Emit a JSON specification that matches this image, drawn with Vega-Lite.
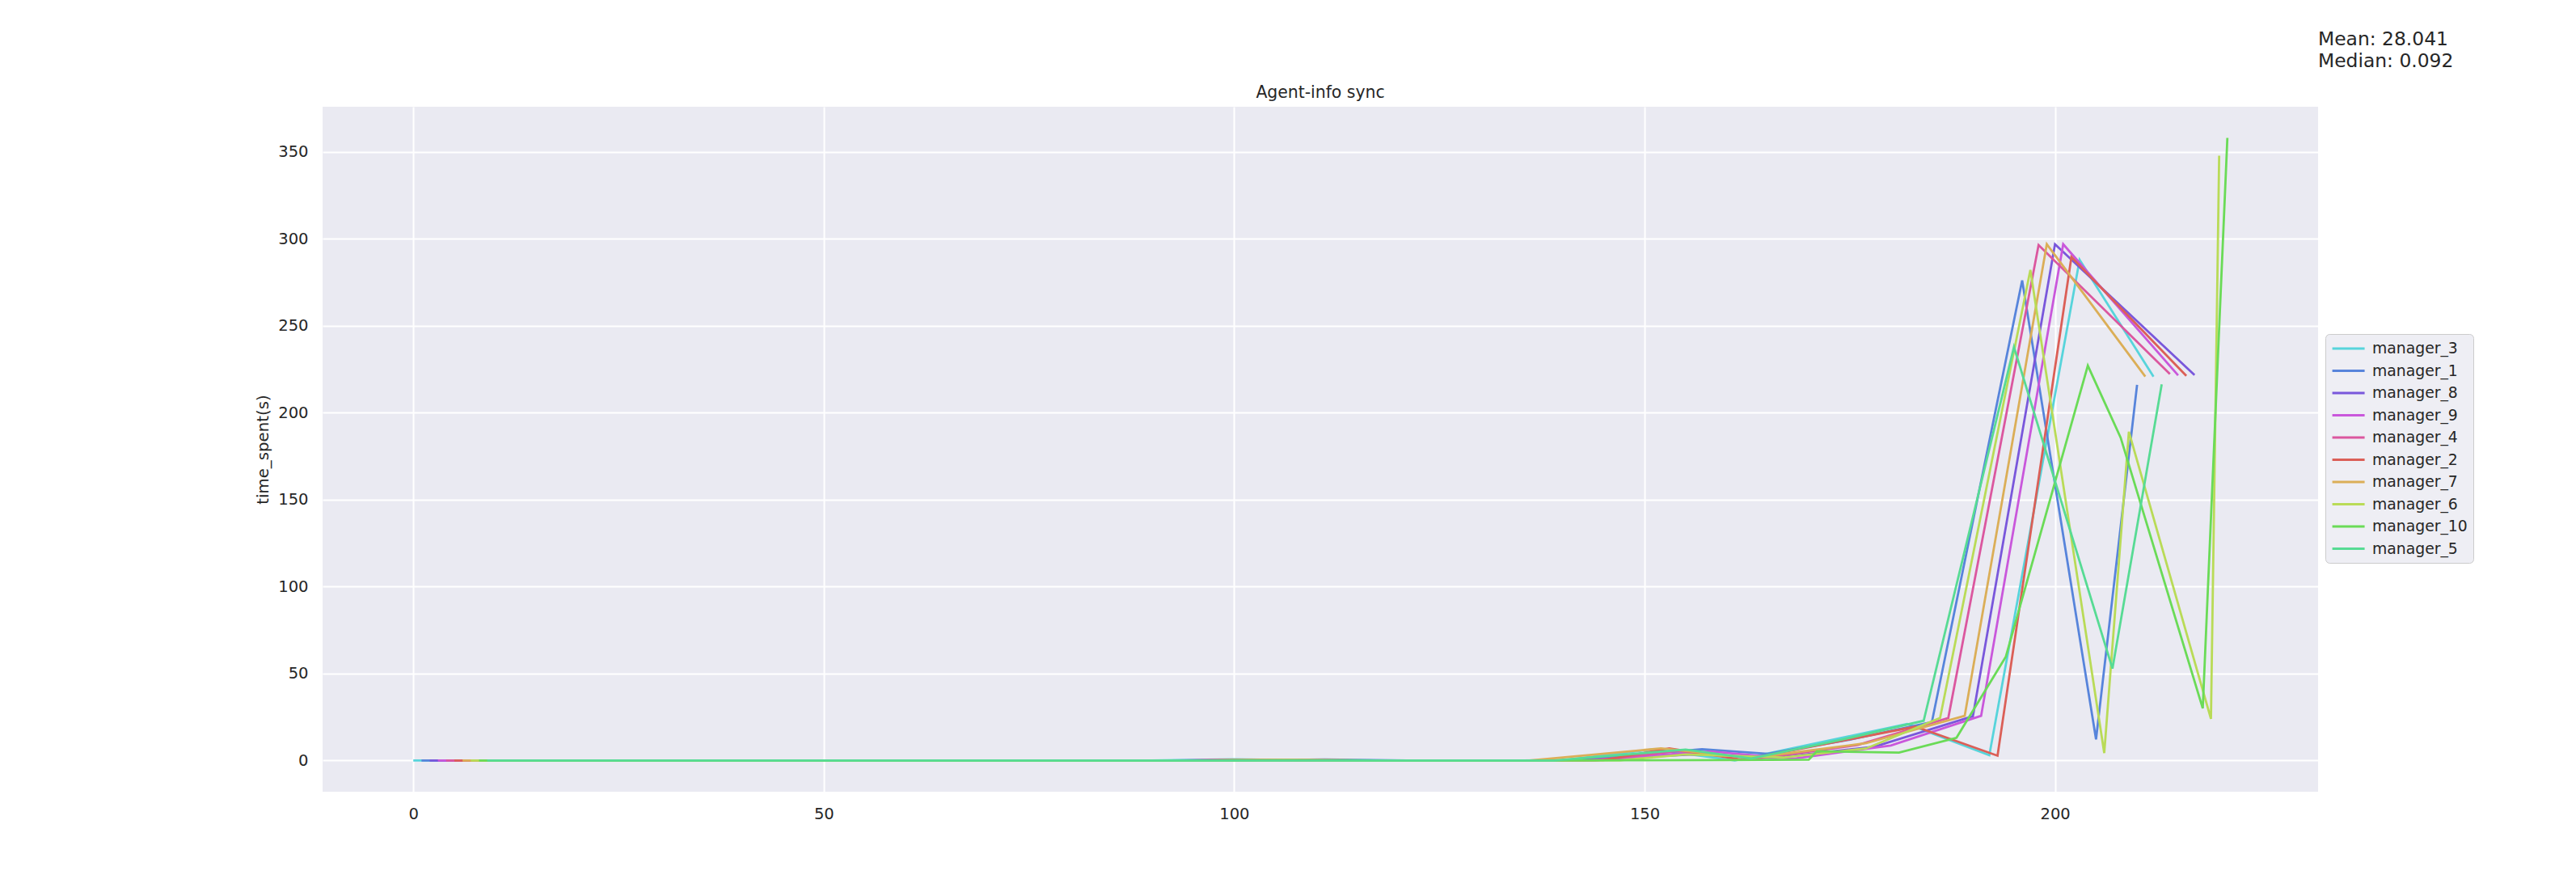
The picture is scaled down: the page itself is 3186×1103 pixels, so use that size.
{
  "$schema": "https://vega.github.io/schema/vega-lite/v6.json",
  "autosize": "none",
  "width": 2468,
  "height": 847,
  "padding": {"left": 399, "top": 132, "right": 319, "bottom": 124},
  "background": "white",
  "config": {
    "view": {"fill": "#EAEAF2", "stroke": null},
    "font": "DejaVu Sans"
  },
  "title": {
    "text": "Agent-info sync",
    "fontSize": 20.4,
    "fontWeight": "normal",
    "color": "#262626",
    "font": "DejaVu Sans",
    "offset": -88
  },
  "layer": [
    {
      "data": {
        "values": [
          {"manager": "manager_3", "idx": 0, "time_spent": 0.08},
          {"manager": "manager_3", "idx": 10, "time_spent": 0.09},
          {"manager": "manager_3", "idx": 20, "time_spent": 0.1},
          {"manager": "manager_3", "idx": 30, "time_spent": 0.09},
          {"manager": "manager_3", "idx": 40, "time_spent": 0.08},
          {"manager": "manager_3", "idx": 50, "time_spent": 0.09},
          {"manager": "manager_3", "idx": 60, "time_spent": 0.1},
          {"manager": "manager_3", "idx": 70, "time_spent": 0.09},
          {"manager": "manager_3", "idx": 80, "time_spent": 0.09},
          {"manager": "manager_3", "idx": 90, "time_spent": 0.08},
          {"manager": "manager_3", "idx": 100, "time_spent": 0.7},
          {"manager": "manager_3", "idx": 110, "time_spent": 0.09},
          {"manager": "manager_3", "idx": 120, "time_spent": 0.1},
          {"manager": "manager_3", "idx": 130, "time_spent": 0.09},
          {"manager": "manager_3", "idx": 140, "time_spent": 0.12},
          {"manager": "manager_3", "idx": 151, "time_spent": 6.4},
          {"manager": "manager_3", "idx": 161, "time_spent": 0.1},
          {"manager": "manager_3", "idx": 182, "time_spent": 21.0},
          {"manager": "manager_3", "idx": 192, "time_spent": 3.1},
          {"manager": "manager_3", "idx": 203, "time_spent": 287.8},
          {"manager": "manager_3", "idx": 212, "time_spent": 220.7},

          {"manager": "manager_1", "idx": 1, "time_spent": 0.09},
          {"manager": "manager_1", "idx": 11, "time_spent": 0.08},
          {"manager": "manager_1", "idx": 21, "time_spent": 0.09},
          {"manager": "manager_1", "idx": 31, "time_spent": 0.1},
          {"manager": "manager_1", "idx": 41, "time_spent": 0.09},
          {"manager": "manager_1", "idx": 51, "time_spent": 0.08},
          {"manager": "manager_1", "idx": 61, "time_spent": 0.09},
          {"manager": "manager_1", "idx": 71, "time_spent": 0.09},
          {"manager": "manager_1", "idx": 81, "time_spent": 0.1},
          {"manager": "manager_1", "idx": 91, "time_spent": 0.09},
          {"manager": "manager_1", "idx": 101, "time_spent": 0.09},
          {"manager": "manager_1", "idx": 111, "time_spent": 0.6},
          {"manager": "manager_1", "idx": 121, "time_spent": 0.09},
          {"manager": "manager_1", "idx": 131, "time_spent": 0.08},
          {"manager": "manager_1", "idx": 141, "time_spent": 0.1},
          {"manager": "manager_1", "idx": 157, "time_spent": 6.6},
          {"manager": "manager_1", "idx": 165, "time_spent": 3.9},
          {"manager": "manager_1", "idx": 175, "time_spent": 12.0},
          {"manager": "manager_1", "idx": 185, "time_spent": 22.1},
          {"manager": "manager_1", "idx": 196, "time_spent": 276.0},
          {"manager": "manager_1", "idx": 205, "time_spent": 12.2},
          {"manager": "manager_1", "idx": 210, "time_spent": 216.0},

          {"manager": "manager_8", "idx": 2, "time_spent": 0.09},
          {"manager": "manager_8", "idx": 12, "time_spent": 0.1},
          {"manager": "manager_8", "idx": 22, "time_spent": 0.09},
          {"manager": "manager_8", "idx": 32, "time_spent": 0.08},
          {"manager": "manager_8", "idx": 42, "time_spent": 0.09},
          {"manager": "manager_8", "idx": 52, "time_spent": 0.09},
          {"manager": "manager_8", "idx": 62, "time_spent": 0.1},
          {"manager": "manager_8", "idx": 72, "time_spent": 0.09},
          {"manager": "manager_8", "idx": 82, "time_spent": 0.08},
          {"manager": "manager_8", "idx": 92, "time_spent": 0.09},
          {"manager": "manager_8", "idx": 102, "time_spent": 0.3},
          {"manager": "manager_8", "idx": 112, "time_spent": 0.09},
          {"manager": "manager_8", "idx": 122, "time_spent": 0.1},
          {"manager": "manager_8", "idx": 132, "time_spent": 0.09},
          {"manager": "manager_8", "idx": 142, "time_spent": 0.1},
          {"manager": "manager_8", "idx": 156, "time_spent": 3.5},
          {"manager": "manager_8", "idx": 166, "time_spent": 1.5},
          {"manager": "manager_8", "idx": 178, "time_spent": 8.0},
          {"manager": "manager_8", "idx": 190, "time_spent": 25.5},
          {"manager": "manager_8", "idx": 200, "time_spent": 296.8},
          {"manager": "manager_8", "idx": 217, "time_spent": 221.6},

          {"manager": "manager_9", "idx": 3, "time_spent": 0.08},
          {"manager": "manager_9", "idx": 13, "time_spent": 0.09},
          {"manager": "manager_9", "idx": 23, "time_spent": 0.09},
          {"manager": "manager_9", "idx": 33, "time_spent": 0.1},
          {"manager": "manager_9", "idx": 43, "time_spent": 0.09},
          {"manager": "manager_9", "idx": 53, "time_spent": 0.08},
          {"manager": "manager_9", "idx": 63, "time_spent": 0.09},
          {"manager": "manager_9", "idx": 73, "time_spent": 0.1},
          {"manager": "manager_9", "idx": 83, "time_spent": 0.09},
          {"manager": "manager_9", "idx": 93, "time_spent": 0.09},
          {"manager": "manager_9", "idx": 103, "time_spent": 0.4},
          {"manager": "manager_9", "idx": 113, "time_spent": 0.09},
          {"manager": "manager_9", "idx": 123, "time_spent": 0.08},
          {"manager": "manager_9", "idx": 133, "time_spent": 0.09},
          {"manager": "manager_9", "idx": 143, "time_spent": 0.1},
          {"manager": "manager_9", "idx": 158, "time_spent": 5.3},
          {"manager": "manager_9", "idx": 168, "time_spent": 1.0},
          {"manager": "manager_9", "idx": 180, "time_spent": 8.7},
          {"manager": "manager_9", "idx": 191, "time_spent": 25.7},
          {"manager": "manager_9", "idx": 201, "time_spent": 296.8},
          {"manager": "manager_9", "idx": 215, "time_spent": 221.4},

          {"manager": "manager_4", "idx": 4, "time_spent": 0.09},
          {"manager": "manager_4", "idx": 14, "time_spent": 0.09},
          {"manager": "manager_4", "idx": 24, "time_spent": 0.08},
          {"manager": "manager_4", "idx": 34, "time_spent": 0.09},
          {"manager": "manager_4", "idx": 44, "time_spent": 0.1},
          {"manager": "manager_4", "idx": 54, "time_spent": 0.09},
          {"manager": "manager_4", "idx": 64, "time_spent": 0.09},
          {"manager": "manager_4", "idx": 74, "time_spent": 0.08},
          {"manager": "manager_4", "idx": 84, "time_spent": 0.09},
          {"manager": "manager_4", "idx": 94, "time_spent": 0.1},
          {"manager": "manager_4", "idx": 104, "time_spent": 0.5},
          {"manager": "manager_4", "idx": 114, "time_spent": 0.09},
          {"manager": "manager_4", "idx": 124, "time_spent": 0.09},
          {"manager": "manager_4", "idx": 134, "time_spent": 0.1},
          {"manager": "manager_4", "idx": 144, "time_spent": 0.12},
          {"manager": "manager_4", "idx": 154, "time_spent": 5.5},
          {"manager": "manager_4", "idx": 164, "time_spent": 1.2},
          {"manager": "manager_4", "idx": 176, "time_spent": 9.0},
          {"manager": "manager_4", "idx": 187, "time_spent": 24.5},
          {"manager": "manager_4", "idx": 198, "time_spent": 296.3},
          {"manager": "manager_4", "idx": 214, "time_spent": 222.2},

          {"manager": "manager_2", "idx": 5, "time_spent": 0.09},
          {"manager": "manager_2", "idx": 15, "time_spent": 0.1},
          {"manager": "manager_2", "idx": 25, "time_spent": 0.09},
          {"manager": "manager_2", "idx": 35, "time_spent": 0.09},
          {"manager": "manager_2", "idx": 45, "time_spent": 0.08},
          {"manager": "manager_2", "idx": 55, "time_spent": 0.09},
          {"manager": "manager_2", "idx": 65, "time_spent": 0.1},
          {"manager": "manager_2", "idx": 75, "time_spent": 0.09},
          {"manager": "manager_2", "idx": 85, "time_spent": 0.09},
          {"manager": "manager_2", "idx": 95, "time_spent": 0.08},
          {"manager": "manager_2", "idx": 105, "time_spent": 0.4},
          {"manager": "manager_2", "idx": 115, "time_spent": 0.09},
          {"manager": "manager_2", "idx": 125, "time_spent": 0.1},
          {"manager": "manager_2", "idx": 135, "time_spent": 0.09},
          {"manager": "manager_2", "idx": 145, "time_spent": 0.3},
          {"manager": "manager_2", "idx": 153, "time_spent": 7.0},
          {"manager": "manager_2", "idx": 162, "time_spent": 0.4},
          {"manager": "manager_2", "idx": 183, "time_spent": 19.5},
          {"manager": "manager_2", "idx": 193, "time_spent": 2.8},
          {"manager": "manager_2", "idx": 202, "time_spent": 289.4},
          {"manager": "manager_2", "idx": 216, "time_spent": 221.1},

          {"manager": "manager_7", "idx": 6, "time_spent": 0.1},
          {"manager": "manager_7", "idx": 16, "time_spent": 0.09},
          {"manager": "manager_7", "idx": 26, "time_spent": 0.08},
          {"manager": "manager_7", "idx": 36, "time_spent": 0.09},
          {"manager": "manager_7", "idx": 46, "time_spent": 0.09},
          {"manager": "manager_7", "idx": 56, "time_spent": 0.1},
          {"manager": "manager_7", "idx": 66, "time_spent": 0.09},
          {"manager": "manager_7", "idx": 76, "time_spent": 0.08},
          {"manager": "manager_7", "idx": 86, "time_spent": 0.09},
          {"manager": "manager_7", "idx": 96, "time_spent": 0.1},
          {"manager": "manager_7", "idx": 106, "time_spent": 0.3},
          {"manager": "manager_7", "idx": 116, "time_spent": 0.09},
          {"manager": "manager_7", "idx": 126, "time_spent": 0.09},
          {"manager": "manager_7", "idx": 136, "time_spent": 0.1},
          {"manager": "manager_7", "idx": 152, "time_spent": 7.0},
          {"manager": "manager_7", "idx": 163, "time_spent": 1.5},
          {"manager": "manager_7", "idx": 177, "time_spent": 10.0},
          {"manager": "manager_7", "idx": 189, "time_spent": 25.7},
          {"manager": "manager_7", "idx": 199, "time_spent": 296.8},
          {"manager": "manager_7", "idx": 211, "time_spent": 220.7},

          {"manager": "manager_6", "idx": 7, "time_spent": 0.09},
          {"manager": "manager_6", "idx": 17, "time_spent": 0.09},
          {"manager": "manager_6", "idx": 27, "time_spent": 0.1},
          {"manager": "manager_6", "idx": 37, "time_spent": 0.09},
          {"manager": "manager_6", "idx": 47, "time_spent": 0.08},
          {"manager": "manager_6", "idx": 57, "time_spent": 0.09},
          {"manager": "manager_6", "idx": 67, "time_spent": 0.09},
          {"manager": "manager_6", "idx": 77, "time_spent": 0.1},
          {"manager": "manager_6", "idx": 87, "time_spent": 0.09},
          {"manager": "manager_6", "idx": 97, "time_spent": 0.08},
          {"manager": "manager_6", "idx": 107, "time_spent": 0.3},
          {"manager": "manager_6", "idx": 117, "time_spent": 0.09},
          {"manager": "manager_6", "idx": 127, "time_spent": 0.1},
          {"manager": "manager_6", "idx": 137, "time_spent": 0.09},
          {"manager": "manager_6", "idx": 147, "time_spent": 0.2},
          {"manager": "manager_6", "idx": 155, "time_spent": 3.5},
          {"manager": "manager_6", "idx": 167, "time_spent": 1.8},
          {"manager": "manager_6", "idx": 177, "time_spent": 7.0},
          {"manager": "manager_6", "idx": 186, "time_spent": 24.5},
          {"manager": "manager_6", "idx": 197, "time_spent": 282.0},
          {"manager": "manager_6", "idx": 206, "time_spent": 4.3},
          {"manager": "manager_6", "idx": 209, "time_spent": 189.0},
          {"manager": "manager_6", "idx": 219, "time_spent": 24.0},
          {"manager": "manager_6", "idx": 220, "time_spent": 347.7},

          {"manager": "manager_10", "idx": 8, "time_spent": 0.09},
          {"manager": "manager_10", "idx": 18, "time_spent": 0.08},
          {"manager": "manager_10", "idx": 28, "time_spent": 0.09},
          {"manager": "manager_10", "idx": 38, "time_spent": 0.09},
          {"manager": "manager_10", "idx": 48, "time_spent": 0.1},
          {"manager": "manager_10", "idx": 58, "time_spent": 0.09},
          {"manager": "manager_10", "idx": 68, "time_spent": 0.08},
          {"manager": "manager_10", "idx": 78, "time_spent": 0.09},
          {"manager": "manager_10", "idx": 88, "time_spent": 0.1},
          {"manager": "manager_10", "idx": 98, "time_spent": 0.09},
          {"manager": "manager_10", "idx": 108, "time_spent": 0.2},
          {"manager": "manager_10", "idx": 118, "time_spent": 0.09},
          {"manager": "manager_10", "idx": 128, "time_spent": 0.09},
          {"manager": "manager_10", "idx": 138, "time_spent": 0.1},
          {"manager": "manager_10", "idx": 148, "time_spent": 0.2},
          {"manager": "manager_10", "idx": 160, "time_spent": 0.3},
          {"manager": "manager_10", "idx": 170, "time_spent": 0.5},
          {"manager": "manager_10", "idx": 171, "time_spent": 5.4},
          {"manager": "manager_10", "idx": 181, "time_spent": 4.6},
          {"manager": "manager_10", "idx": 188, "time_spent": 13.1},
          {"manager": "manager_10", "idx": 194, "time_spent": 59.6},
          {"manager": "manager_10", "idx": 204, "time_spent": 227.0},
          {"manager": "manager_10", "idx": 208, "time_spent": 185.6},
          {"manager": "manager_10", "idx": 218, "time_spent": 30.0},
          {"manager": "manager_10", "idx": 221, "time_spent": 357.9},

          {"manager": "manager_5", "idx": 9, "time_spent": 0.09},
          {"manager": "manager_5", "idx": 19, "time_spent": 0.1},
          {"manager": "manager_5", "idx": 29, "time_spent": 0.09},
          {"manager": "manager_5", "idx": 39, "time_spent": 0.08},
          {"manager": "manager_5", "idx": 49, "time_spent": 0.09},
          {"manager": "manager_5", "idx": 59, "time_spent": 0.09},
          {"manager": "manager_5", "idx": 69, "time_spent": 0.1},
          {"manager": "manager_5", "idx": 79, "time_spent": 0.09},
          {"manager": "manager_5", "idx": 89, "time_spent": 0.08},
          {"manager": "manager_5", "idx": 99, "time_spent": 0.09},
          {"manager": "manager_5", "idx": 109, "time_spent": 0.1},
          {"manager": "manager_5", "idx": 119, "time_spent": 0.09},
          {"manager": "manager_5", "idx": 129, "time_spent": 0.09},
          {"manager": "manager_5", "idx": 139, "time_spent": 0.1},
          {"manager": "manager_5", "idx": 155, "time_spent": 6.3},
          {"manager": "manager_5", "idx": 163, "time_spent": 1.2},
          {"manager": "manager_5", "idx": 174, "time_spent": 12.0},
          {"manager": "manager_5", "idx": 184, "time_spent": 22.9},
          {"manager": "manager_5", "idx": 195, "time_spent": 237.7},
          {"manager": "manager_5", "idx": 207, "time_spent": 52.9},
          {"manager": "manager_5", "idx": 213, "time_spent": 216.2}
        ]
      },
      "mark": {"type": "line", "strokeWidth": 2.8, "clip": true},
      "encoding": {
        "x": {
          "field": "idx",
          "type": "quantitative",
          "scale": {"domain": [-11.05, 232.05], "nice": false, "zero": false},
          "axis": {
            "values": [0, 50, 100, 150, 200],
            "title": null,
            "grid": true,
            "gridColor": "#FFFFFF",
            "gridWidth": 2,
            "domain": false,
            "ticks": false,
            "labelPadding": 18,
            "labelFontSize": 19.5,
            "labelFont": "DejaVu Sans",
            "labelColor": "#262626"
          }
        },
        "y": {
          "field": "time_spent",
          "type": "quantitative",
          "scale": {"domain": [-17.9, 375.8], "nice": false, "zero": false},
          "axis": {
            "values": [0, 50, 100, 150, 200, 250, 300, 350],
            "title": "time_spent(s)",
            "titleFontSize": 19.8,
            "titleFontWeight": "normal",
            "titleFont": "DejaVu Sans",
            "titleColor": "#262626",
            "titlePadding": 8,
            "grid": true,
            "gridColor": "#FFFFFF",
            "gridWidth": 2,
            "domain": false,
            "ticks": false,
            "labelPadding": 18,
            "labelFontSize": 19.5,
            "labelFont": "DejaVu Sans",
            "labelColor": "#262626"
          }
        },
        "color": {
          "field": "manager",
          "type": "nominal",
          "scale": {
            "domain": ["manager_3", "manager_1", "manager_8", "manager_9", "manager_4", "manager_2", "manager_7", "manager_6", "manager_10", "manager_5"],
            "range": ["#57d4db", "#5784db", "#7957db", "#c957db", "#db579f", "#db5f57", "#dbae57", "#b9db57", "#6adb57", "#57db94"]
          },
          "legend": {
            "title": null,
            "orient": "none",
            "legendX": 2477,
            "legendY": 281,
            "symbolType": "M-1,0H3.255",
            "symbolSize": 353,
            "symbolStrokeWidth": 2.8,
            "symbolFillColor": "transparent",
            "labelFontSize": 18.8,
            "labelFont": "DejaVu Sans",
            "labelColor": "#262626",
            "labelOffset": 29,
            "fillColor": "#EEEEF4",
            "strokeColor": "#CCCCCC",
            "cornerRadius": 5,
            "padding": 7,
            "rowPadding": 6.5
          }
        }
      }
    },
    {
      "data": {"values": [{"note": "Mean: 28.041\nMedian: 0.092"}]},
      "mark": {
        "type": "text",
        "align": "left",
        "baseline": "alphabetic",
        "fontSize": 23.4,
        "lineBreak": "\n",
        "lineHeight": 26.7,
        "color": "#262626",
        "font": "DejaVu Sans"
      },
      "encoding": {
        "text": {"field": "note"},
        "x": {"datum": 232.05},
        "y": {"datum": 410.9}
      }
    }
  ]
}
